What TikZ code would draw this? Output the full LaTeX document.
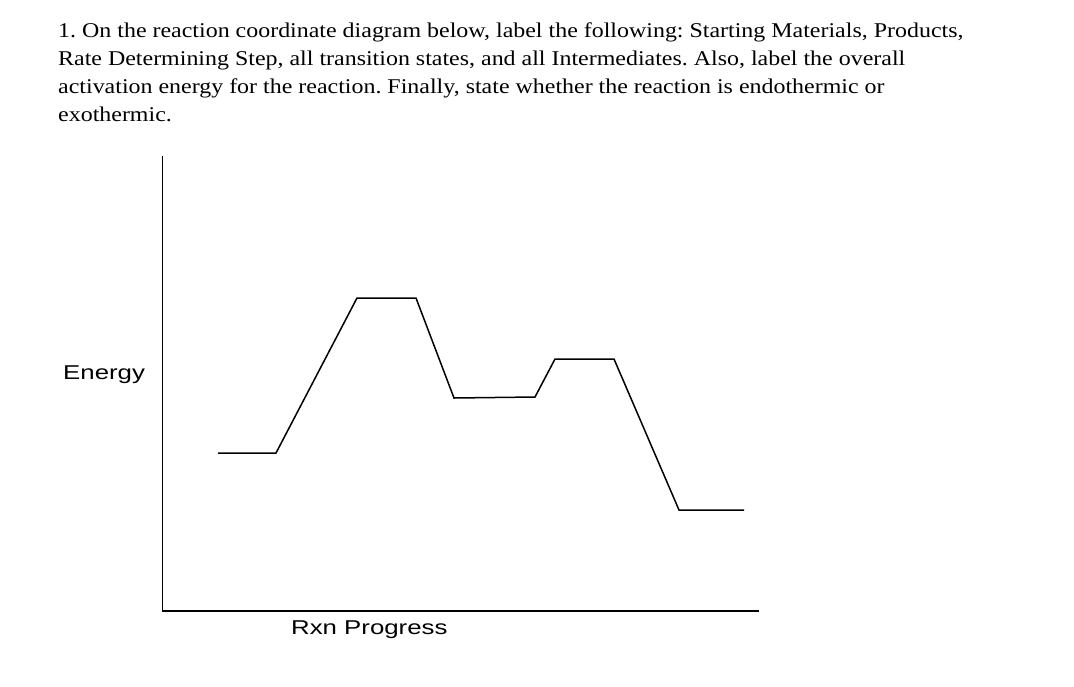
\documentclass[tikz,border=0pt]{standalone}
\usepackage{fontspec}
\setmainfont[FakeStretch=1.14]{Liberation Serif}
\newfontfamily\axisfont[FakeStretch=1.29]{Liberation Sans}
\begin{document}
\frenchspacing
\begin{tikzpicture}[x=1pt,y=-1pt,
  qline/.style={anchor=base west,inner sep=0pt,font=\fontsize{21}{28}\selectfont},
  axlabel/.style={anchor=base west,inner sep=0pt,font=\axisfont\fontsize{20}{24}\selectfont},
  axisline/.style={line width=1.4pt,line cap=butt},
  curveline/.style={line width=1.5pt,line join=miter}]
\useasboundingbox (0,0) rectangle (1074,686);
\node[qline] (l1) at (58,37) {1. On the reaction coordinate diagram below, label the following: Starting Materials, Products,};
\node[qline] (l2) at (58,65) {Rate Determining Step, all transition states, and all Intermediates. Also, label the overall};
\node[qline] (l3) at (58,93) {activation energy for the reaction. Finally, state whether the reaction is endothermic or};
\node[qline] (l4) at (58,121) {exothermic.};
\coordinate (ytop) at (162.5,156);
\coordinate (origin) at (162.5,611);
\coordinate (xend) at (759,611);
\draw[axisline] (ytop) -- (origin) -- (xend);
\node[axlabel] (energy) at (63,379) {Energy};
\node[axlabel] (rxn) at (291,634) {Rxn Progress};
\coordinate (p1) at (218,453);
\coordinate (p2) at (276,453);
\coordinate (p3) at (357,298);
\coordinate (p4) at (416,298);
\coordinate (p5) at (454,398);
\coordinate (p6) at (535,397);
\coordinate (p7) at (555,359);
\coordinate (p8) at (614,359);
\coordinate (p9) at (679,510);
\coordinate (p10) at (744,510);
\draw[curveline] (p1) -- (p2) -- (p3) -- (p4) -- (p5) -- (p6) -- (p7) -- (p8) -- (p9) -- (p10);
\end{tikzpicture}
\end{document}
